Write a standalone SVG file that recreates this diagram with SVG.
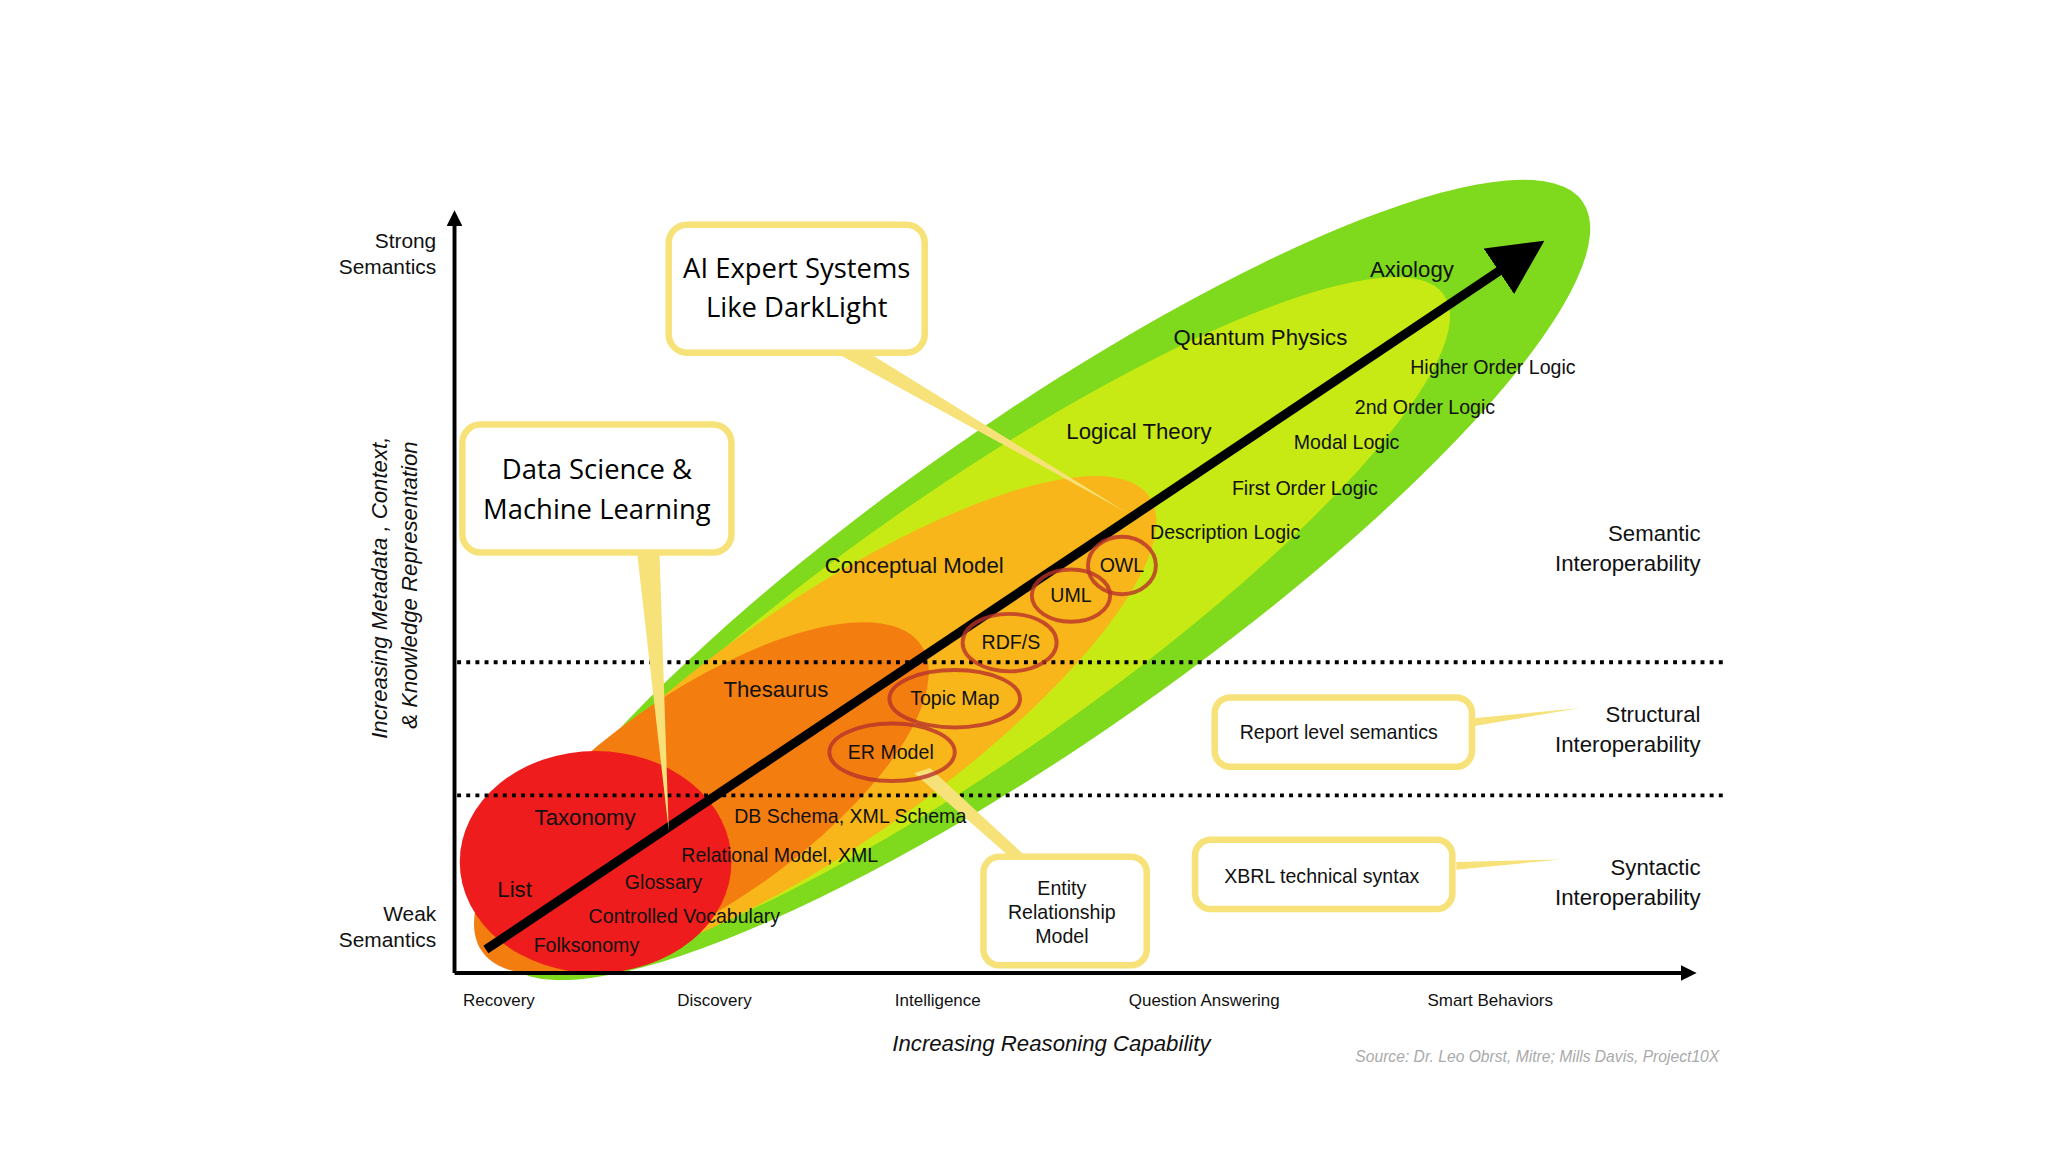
<svg xmlns="http://www.w3.org/2000/svg" width="2048" height="1152" viewBox="0 0 2048 1152">
<defs>
<marker id="ah" markerWidth="6" markerHeight="6" refX="3" refY="3" orient="auto" markerUnits="strokeWidth"><path d="M0,0 L6,3 L0,6 z" fill="#000"/></marker>
<marker id="ah2" markerWidth="4" markerHeight="4" refX="1" refY="2" orient="auto" markerUnits="strokeWidth"><path d="M0,0 L4,2 L0,4 z" fill="#000"/></marker>
</defs>
<style>
.t{font-family:"Liberation Sans",Arial,sans-serif;fill:#111}
.c{font-family:"Open Sans","Liberation Sans",sans-serif;fill:#000}
.box{fill:#fff;stroke:#f7e27a;stroke-width:5}
.ov{fill:none;stroke:#b8322a;stroke-width:3;opacity:.8}
.dot{stroke:#000;stroke-width:3;stroke-dasharray:3 4}
</style>
<rect width="2048" height="1152" fill="#fff"/>
<g transform="scale(1.3061)">
<g id="ellipses">
<ellipse cx="798" cy="444" rx="505" ry="122" transform="rotate(-35 798 444)" fill="#7fd91c"/>
<ellipse cx="745" cy="478" rx="440" ry="102" transform="rotate(-35 745 478)" fill="#c8ea14"/>
<ellipse cx="630" cy="555" rx="305" ry="92" transform="rotate(-35 630 555)" fill="#f8b61a"/>
<ellipse cx="537" cy="611" rx="205" ry="80" transform="rotate(-35 537 611)" fill="#f47d10"/>
<ellipse cx="456" cy="660" rx="104" ry="85" fill="#ee1c1c"/>
</g>
<g id="connectors">
<line x1="348" y1="745" x2="348" y2="170" stroke="#000" stroke-width="3" marker-end="url(#ah2)"/>
<line x1="348" y1="745" x2="1290" y2="745" stroke="#000" stroke-width="3" marker-end="url(#ah2)"/>
<line x1="372" y1="727" x2="1165" y2="196" stroke="#000" stroke-width="7" marker-end="url(#ah)"/>
<line class="dot" x1="350" y1="507" x2="1320" y2="507"/>
<line class="dot" x1="350" y1="609" x2="1320" y2="609"/>
<polygon points="488,425 505,425 512,636" fill="#f7e27a"/>
<polygon points="640,270 665,270 862,392" fill="#f7e27a"/>
<polygon points="700,592 712,588 790,660 780,662" fill="#f7e27a"/>
<polygon points="1128,550 1210,542 1128,556" fill="#f7e27a"/>
<polygon points="1115,660 1195,658 1115,666" fill="#f7e27a"/>
</g>
<g id="ovals">
<ellipse class="ov" cx="859" cy="433" rx="26" ry="22"/>
<ellipse class="ov" cx="820" cy="456" rx="30" ry="20"/>
<ellipse class="ov" cx="773" cy="492" rx="36" ry="22"/>
<ellipse class="ov" cx="731" cy="535" rx="50" ry="22"/>
<ellipse class="ov" cx="683" cy="576" rx="48" ry="22"/>
</g>
<g id="labels" class="t">
<text x="1081" y="212" font-size="17" text-anchor="middle" class="t">Axiology</text>
<text x="965" y="264" font-size="17" text-anchor="middle" class="t">Quantum Physics</text>
<text x="1143" y="286" font-size="15" text-anchor="middle" class="t">Higher Order Logic</text>
<text x="1091" y="317" font-size="15" text-anchor="middle" class="t">2nd Order Logic</text>
<text x="872" y="336" font-size="17" text-anchor="middle" class="t">Logical Theory</text>
<text x="1031" y="344" font-size="15" text-anchor="middle" class="t">Modal Logic</text>
<text x="999" y="379" font-size="15" text-anchor="middle" class="t">First Order Logic</text>
<text x="938" y="413" font-size="15" text-anchor="middle" class="t">Description Logic</text>
<text x="700" y="439" font-size="17" text-anchor="middle" class="t">Conceptual Model</text>
<text x="859" y="438" font-size="15" text-anchor="middle" class="t">OWL</text>
<text x="820" y="461" font-size="15" text-anchor="middle" class="t">UML</text>
<text x="774" y="497" font-size="15" text-anchor="middle" class="t">RDF/S</text>
<text x="594" y="534" font-size="17" text-anchor="middle" class="t">Thesaurus</text>
<text x="731" y="540" font-size="15" text-anchor="middle" class="t">Topic Map</text>
<text x="682" y="581" font-size="15" text-anchor="middle" class="t">ER Model</text>
<text x="448" y="632" font-size="17" text-anchor="middle" class="t">Taxonomy</text>
<text x="651" y="630" font-size="15" text-anchor="middle" class="t">DB Schema, XML Schema</text>
<text x="597" y="660" font-size="15" text-anchor="middle" class="t">Relational Model, XML</text>
<text x="508" y="681" font-size="15" text-anchor="middle" class="t">Glossary</text>
<text x="394" y="687" font-size="17" text-anchor="middle" class="t">List</text>
<text x="524" y="707" font-size="15" text-anchor="middle" class="t">Controlled Vocabulary</text>
<text x="449" y="729" font-size="15" text-anchor="middle" class="t">Folksonomy</text>
<text x="334" y="190" font-size="16" text-anchor="end" class="t">Strong</text>
<text x="334" y="210" font-size="16" text-anchor="end" class="t">Semantics</text>
<text x="334" y="705" font-size="16" text-anchor="end" class="t">Weak</text>
<text x="334" y="725" font-size="16" text-anchor="end" class="t">Semantics</text>
<text transform="translate(296 450) rotate(-90)" font-size="17" font-style="italic" text-anchor="middle" class="t">Increasing Metadata , Context,</text>
<text transform="translate(319 448) rotate(-90)" font-size="17" font-style="italic" text-anchor="middle" class="t">&amp; Knowledge Representation</text>
<text x="382" y="770" font-size="13" text-anchor="middle" class="t">Recovery</text>
<text x="547" y="770" font-size="13" text-anchor="middle" class="t">Discovery</text>
<text x="718" y="770" font-size="13" text-anchor="middle" class="t">Intelligence</text>
<text x="922" y="770" font-size="13" text-anchor="middle" class="t">Question Answering</text>
<text x="1141" y="770" font-size="13" text-anchor="middle" class="t">Smart Behaviors</text>
<text x="805" y="805" font-size="17" font-style="italic" text-anchor="middle" class="t">Increasing Reasoning Capability</text>
<text x="1177" y="813" font-size="12" font-style="italic" text-anchor="middle" class="t" style="fill:#aaa">Source: Dr. Leo Obrst, Mitre; Mills Davis, Project10X</text>
<text x="1302" y="414" font-size="17" text-anchor="end" class="t">Semantic</text>
<text x="1302" y="437" font-size="17" text-anchor="end" class="t">Interoperability</text>
<text x="1302" y="553" font-size="17" text-anchor="end" class="t">Structural</text>
<text x="1302" y="576" font-size="17" text-anchor="end" class="t">Interoperability</text>
<text x="1302" y="670" font-size="17" text-anchor="end" class="t">Syntactic</text>
<text x="1302" y="693" font-size="17" text-anchor="end" class="t">Interoperability</text>
</g>
<g id="callout-ai">
<rect class="box" x="512" y="172" width="196" height="98" rx="14"/>
<text x="610" y="213" font-size="21" text-anchor="middle" class="c">AI Expert Systems</text>
<text x="610" y="243" font-size="21" text-anchor="middle" class="c">Like DarkLight</text>
</g>
<g id="callout-ds">
<rect class="box" x="354" y="325" width="206" height="98" rx="14"/>
<text x="457" y="367" font-size="21" text-anchor="middle" class="c">Data Science &amp;</text>
<text x="457" y="397" font-size="21" text-anchor="middle" class="c">Machine Learning</text>
</g>
<g id="callout-er">
<rect class="box" x="753" y="656" width="125" height="83" rx="12"/>
<text x="813" y="685" font-size="15" text-anchor="middle" class="t">Entity</text>
<text x="813" y="704" font-size="15" text-anchor="middle" class="t">Relationship</text>
<text x="813" y="722" font-size="15" text-anchor="middle" class="t">Model</text>
</g>
<g id="callout-report">
<rect class="box" x="930" y="534" width="197" height="53" rx="12"/>
<text x="1025" y="566" font-size="15" text-anchor="middle" class="t">Report level semantics</text>
</g>
<g id="callout-xbrl">
<rect class="box" x="915" y="643" width="197" height="53" rx="12"/>
<text x="1012" y="676" font-size="15" text-anchor="middle" class="t">XBRL technical syntax</text>
</g>
</g>
</svg>
